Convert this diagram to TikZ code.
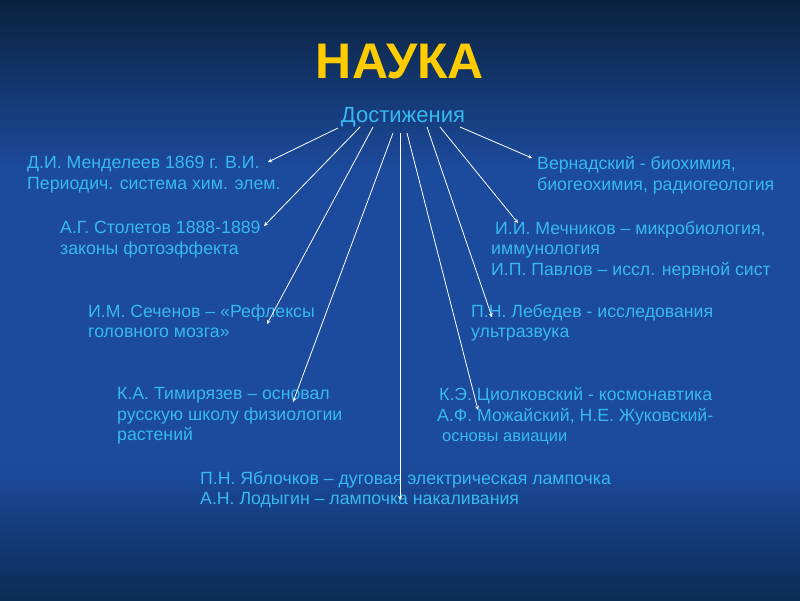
\documentclass[tikz,border=0pt]{standalone}
\usepackage{fontspec}
\setmainfont{Liberation Sans}
\usetikzlibrary{arrows,positioning,calc}
\definecolor{skytop}{RGB}{10,34,62}
\definecolor{skymid}{RGB}{28,74,156}
\definecolor{skybot}{RGB}{11,44,84}
\definecolor{txtblue}{RGB}{55,185,240}
\definecolor{titleyellow}{RGB}{255,204,0}
\pgfdeclareverticalshading{slide}{100bp}{color(0bp)=(skybot); color(25bp)=(skybot);
  color(36bp)=(skymid); color(61bp)=(skymid); color(75bp)=(skytop); color(100bp)=(skytop)}

\begin{document}
\begin{tikzpicture}[x=1pt,y=-1pt,->,>=stealth,
                every edge/.style={draw=white,line width=0.8pt},
                title/.style={text=titleyellow,font=\fontsize{50}{54}\selectfont\bfseries,inner sep=0pt},
                head/.style={text=txtblue,font=\fontsize{22}{26}\selectfont,inner sep=0pt},
                block/.style={text=txtblue,font=\fontsize{17.7}{20.7}\selectfont,align=left,anchor=north west,inner sep=0pt}]
            \useasboundingbox (0,0) rectangle (800,600);
            \shade[shading=slide] (0,0) rectangle (800,600);
            \node[title] (nauka) at (400,62) {НАУКА};
            \node[head] (dost) at (403,117) {Достижения};
            % left column
            \node[block] (mend) at (27,156) {Д.И. Менделеев 1869 г. В.И.\\Периодич. система хим. элем.};
            \node[block] (stol) at (60,221) {А.Г. Столетов 1888-1889\\законы фотоэффекта};
            \node[block] (sech) at (88,304) {И.М. Сеченов – «Рефлексы\\головного мозга»};
            \node[block] (timir) at (117,387) {К.А. Тимирязев – основал\\русскую школу физиологии\\растений};
            \node[block] (yabl) at (200,471) {П.Н. Яблочков – дуговая электрическая лампочка\\А.Н. Лодыгин – лампочка накаливания};
            % right column
            \node[block] (vern) at (537,156) {Вернадский - биохимия,\\биогеохимия, радиогеология};
            \node[block] (mech) at (491,221) {\hspace*{4pt}И.И. Мечников – микробиология,\\иммунология\\И.П. Павлов – иссл. нервной сист};
            \node[block] (leb) at (471,304) {П.Н. Лебедев - исследования\\ультразвука};
            \node[block] (tsiol) at (437,387) {\hspace*{2pt}К.Э. Циолковский - космонавтика\\А.Ф. Можайский, Н.Е. Жуковский-\\\hspace*{5pt}{\fontsize{16.5}{20.7}\selectfont основы авиации}};
            % arrow tips
            \coordinate (mend tip) at (268,162);
            \coordinate (stol tip) at (264,226);
            \coordinate (sech tip) at (267,324);
            \coordinate (timir tip) at (293,402);
            \coordinate (yabl tip) at (400,500);
            \coordinate (tsiol tip) at (478,410);
            \coordinate (leb tip) at (492,317);
            \coordinate (mech tip) at (518,223);
            \coordinate (vern tip) at (532,158);
            \path
                ($(dost.center)+(-65,11)$) edge (mend tip)
                ($(dost.center)+(-43,10)$) edge (stol tip)
                ($(dost.center)+(-30,10)$) edge (sech tip)
                ($(dost.center)+(-10,16)$) edge (timir tip)
                ($(dost.center)+(-3,16)$) edge (yabl tip)
                ($(dost.center)+(4,16)$) edge (tsiol tip)
                ($(dost.center)+(24,10)$) edge (leb tip)
                ($(dost.center)+(37,10)$) edge (mech tip)
                ($(dost.center)+(57,10)$) edge (vern tip);
        \end{tikzpicture}
\end{document}
